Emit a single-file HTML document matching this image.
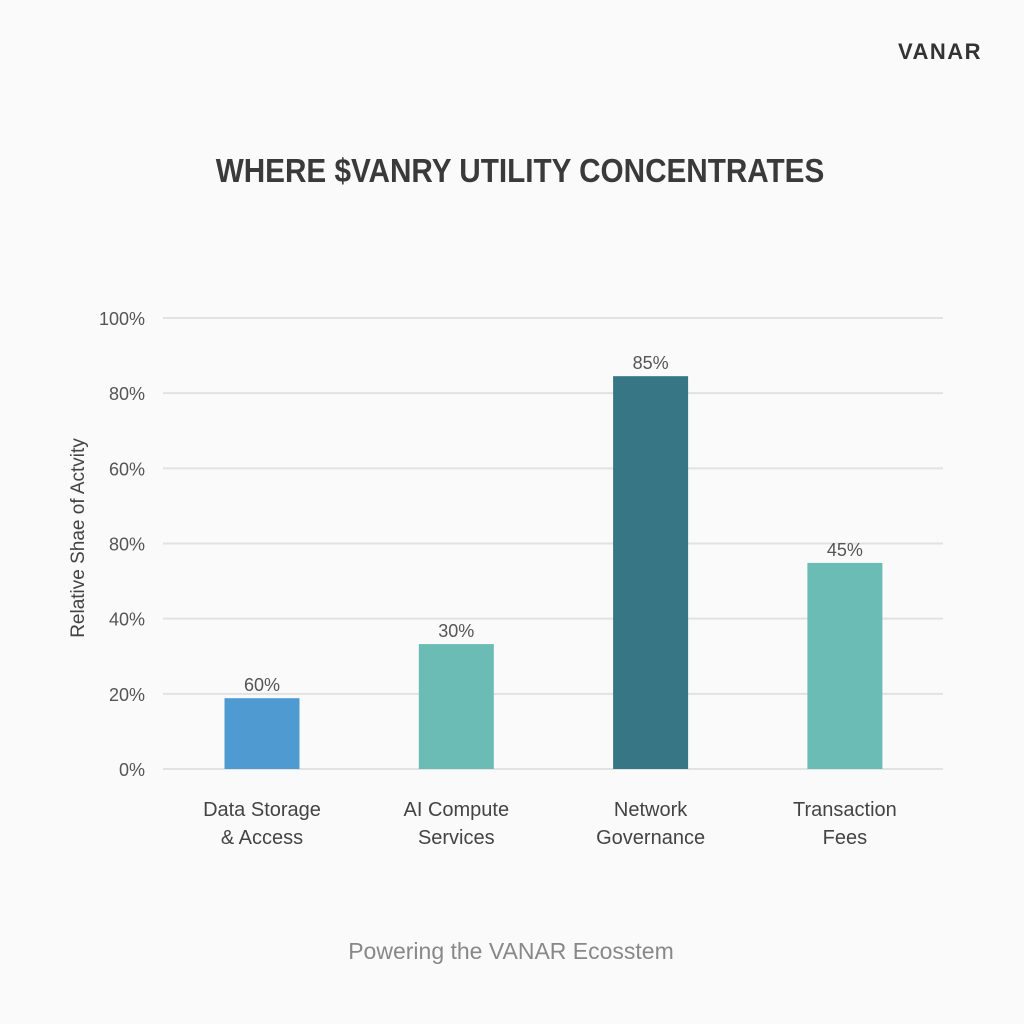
<!DOCTYPE html>
<html><head><meta charset="utf-8"><style>
html,body{margin:0;padding:0;width:1024px;height:1024px;background:#fafafa;overflow:hidden}
svg{display:block;font-family:"Liberation Sans",sans-serif}
</style></head><body>
<svg id="chart" width="1024" height="1024" viewBox="0 0 1024 1024">
<rect width="1024" height="1024" fill="#fafafa"/>
<text x="940" y="59" text-anchor="middle" font-size="22" font-weight="bold" fill="#333" letter-spacing="1.5">VANAR</text>
<text x="520" y="182" text-anchor="middle" font-size="33" font-weight="bold" fill="#3a3a3a" transform="translate(520 0) scale(0.9 1) translate(-520 0)">WHERE $VANRY UTILITY CONCENTRATES</text>
<text transform="translate(84 538) rotate(-90)" text-anchor="middle" font-size="19" fill="#444">Relative Shae of Actvity</text>
<g id="grid"></g><g id="bars"></g>
<text x="511" y="959" text-anchor="middle" font-size="23" fill="#888">Powering the VANAR Ecosstem</text>
</svg>
<script>
const categories=[["Data Storage","& Access"],["AI Compute","Services"],["Network","Governance"],["Transaction","Fees"]];
const values=[15.7,27.7,87.1,45.7];
const valueLabels=["60%","30%","85%","45%"];
const tickLabels=["0%","20%","40%","80%","60%","80%","100%"];
const colors=["#4f9bd1","#6cbcb6","#377684","#6cbcb6"];
const NS="http://www.w3.org/2000/svg";
const y0=769,y1=318,xL=163,xR=943;
function yScale(v){return y0-(v/100)*(y0-y1);}
function xScale(i){return 262+i*194.3;}
const grid=document.getElementById('grid'),bars=document.getElementById('bars');
function mk(tag,attrs,parent,txt){const e=document.createElementNS(NS,tag);for(const k in attrs)e.setAttribute(k,attrs[k]);if(txt!==undefined)e.textContent=txt;parent.appendChild(e);return e;}
tickLabels.forEach((t,i)=>{
  const y=yScale(i*100/(tickLabels.length-1));
  const l=mk('line',{x1:xL,x2:xR,y1:y,y2:y,stroke:'#e2e2e2','stroke-width':2},grid);
  
  
  const tx=mk('text',{x:145,y:y+7,'text-anchor':'end','font-size':18,fill:'#555'},grid,t);
  
  
});
values.forEach((v,i)=>{
  const cx=xScale(i),top=yScale(v);
  const r=mk('rect',{x:cx-37.5,y:top,width:75,height:y0-top,fill:colors[i]},bars);
  
  
  const vl=mk('text',{x:cx,y:top-7,'text-anchor':'middle','font-size':18,fill:'#555'},bars,valueLabels[i]);
  
  
  categories[i].forEach((ln,j)=>{
    const c=mk('text',{x:cx,y:816+j*28,'text-anchor':'middle','font-size':20,fill:'#444'},bars,ln);
    
    
  });
});
</script>
</body></html>
